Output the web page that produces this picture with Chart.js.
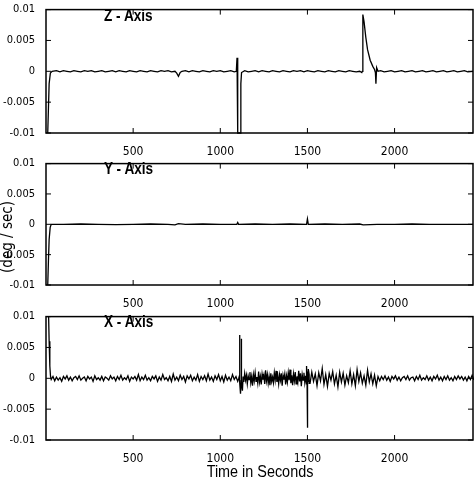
<!DOCTYPE html>
<html><head><meta charset="utf-8">
<script src="https://cdn.jsdelivr.net/npm/chart.js@4"></script>
<style>
body{margin:0;width:474px;height:480px;background:#fff;position:relative;overflow:hidden;font-family:"Liberation Sans Narrow","Liberation Sans",Arial,sans-serif}
.pc{position:absolute;left:0;width:474px}
.lbl{position:absolute;left:104px;font-weight:bold;font-size:16px;color:#000;transform:scaleX(0.85);transform-origin:left}
#xt{position:absolute;top:463px;left:0;width:520px;text-align:center;font-size:16px;transform:scaleX(0.9)}
#yt{position:absolute;z-index:5;color:#000;left:-43px;top:228px;width:100px;text-align:center;transform:rotate(-90deg);font-size:15px;font-family:"DejaVu Sans Condensed",sans-serif}
</style></head><body>
<div class="pc" style="top:0;height:158px"><canvas id="c1"></canvas></div>
<div class="pc" style="top:154px;height:156px"><canvas id="c2"></canvas></div>
<div class="pc" style="top:307px;height:158px"><canvas id="c3"></canvas></div>
<div class="lbl" style="top:7px">Z - Axis</div>
<div class="lbl" style="top:160px">Y - Axis</div>
<div class="lbl" style="top:313px">X - Axis</div>
<div id="xt">Time in Seconds</div>
<div id="yt">(deg / sec)</div>
<script>
// values in units of 1e-4 deg/sec: [time s, value]
const zAxis=[[10,-100],[14,-60],[18,-20],[25,-3],[35,0],[60,1],[80,-1],[100,1],[120,0],[140,-1],[160,1],[180,0],[200,-1],[220,1],[240,0],[260,1],[280,-1],[300,0],[320,1],[340,-1],[360,0],[380,1],[400,-1],[420,1],[440,0],[460,-1],[480,1],[500,0],[520,-1],[540,1],[560,0],[580,-1],[600,1],[620,0],[640,-1],[660,1],[680,0],[700,1],[720,-1],[740,0],[750,-3],[760,-8],[770,-2],[780,0],[800,1],[820,-1],[840,1],[860,0],[880,-1],[900,1],[920,0],[940,-1],[960,1],[980,0],[1000,1],[1020,-1],[1040,0],[1060,1],[1080,-1],[1092,0],[1096,22],[1100,-100],[1115,-100],[1118,-20],[1122,-2],[1140,1],[1160,-1],[1180,0],[1200,1],[1220,-1],[1240,1],[1260,0],[1280,-1],[1300,1],[1320,0],[1340,-1],[1360,1],[1380,0],[1400,-1],[1420,1],[1440,0],[1460,1],[1480,-1],[1500,1],[1520,0],[1540,-1],[1560,1],[1580,0],[1600,-1],[1620,1],[1640,0],[1660,-1],[1680,1],[1700,0],[1720,-1],[1740,1],[1760,0],[1780,-1],[1800,0],[1812,-2],[1815,0],[1818,92],[1825,80],[1835,55],[1845,35],[1860,18],[1875,8],[1885,3],[1890,-2],[1893,-20],[1897,6],[1905,0],[1920,1],[1940,-1],[1960,0],[1980,1],[2000,-1],[2020,0],[2040,1],[2060,-1],[2080,0],[2100,1],[2120,-1],[2140,0],[2160,1],[2180,-1],[2200,0],[2220,1],[2240,-1],[2260,0],[2280,1],[2300,-1],[2320,0],[2340,1],[2360,-1],[2380,0],[2400,1],[2420,-1],[2450,0]];
const yAxis=[[10,-100],[14,-60],[18,-25],[24,-5],[30,0],[100,0],[200,0.5],[300,0],[400,-0.5],[500,0],[600,0.5],[700,0],[740,-1],[760,1],[800,0],[900,0.5],[1000,0],[1095,0],[1100,3],[1105,0],[1200,0.5],[1300,0],[1400,0.5],[1495,0],[1500,9],[1505,0],[1600,0.5],[1700,0],[1800,0.5],[1820,-1],[1900,0],[2000,0],[2100,0.5],[2200,0],[2300,0],[2450,0]];
const xStart=[[15,100],[18,60],[22,20],[26,3]];
const xNoise=[-2,3,-4,2,-3,1,-5,3,-1,4,-3,2,-4,1,3,-2,4,-3,0,2,-4,3,-1,2,-5,4,-2,1,-3,3,-4,2,0,-3,4,-1,2,-4,3,-2,5,-3,1,-2,4,-5,2,-1,3,-3,6,-4,2,-2,5,-3,1,-4,3,-1,4,-5,2,-3,6,-2,1,-4,3,-5,7,-3,2,-4,5,-2,3,-6,4,-1,5,-4,2,-3,6,-5,3,-2,4,-4,7,-3,2,-5,4,-2,6,-4,3,-6,5,-3,2,-4,6,-2,3,-5,4,-3];
const xSpikes=[[1106,0],[1110,70],[1113,-8],[1116,-25],[1120,64],[1123,-6],[1127,-20],[1131,3]];
const xNoise2=[-6,8,-3,5,-9,4,-2,10,-7,3,-12,6,-4,9,-5,2,-8,11,-6,3,-10,7,-2,5,-9,13,-4,6,-8,3,-11,8,-5,2,-7,9,-3,12,-6,4,-9,6,-3,8,-12,5,-2,7,-10,4,-6,9,-3,14,-8,5,-11,7,-4,10,-9,3,-6,12,-5,8,-13,6,-3,9,-7,4,-10,11,-5,6];
const xSpikes2=[[1490,3],[1495,20],[1498,-10],[1500,-80],[1502,-5],[1505,15],[1510,-8]];
const xNoise3=[-8,10,-5,7,-12,9,-4,16,-10,6,-13,8,-3,11,-9,5,-14,10,-6,8,-11,4,-7,12,-9,6,-12,14,-5,9,-8,4,-11,13,-6,7,-9,5,-12,3,-4,3,-2,4,-3,2,-5,3,-1,4,-3,2,-4,1,3,-2,4,-3,1,2,-4,3,-2,5,-3,1,-2,4,-3,2,-4,3,-1,5,-3,2,-4,3,-2,4,-3,1,-4,3,-2,4,-1,3,-3,2,-4,3,-2,5,-3,1,-2,4,-3,2];
const xTicks=[500,1000,1500,2000];
const xTickLabels=["500","1000","1500","2000"];
const yTicks=[-0.01,-0.005,0,0.005,0.01];
const yTickLabels=["-0.01","-0.005","0","0.005","0.01"];

function buildX(){
  const pts=xStart.slice();
  xNoise.forEach((v,i)=>pts.push([30+i*10,v]));
  xSpikes.forEach(p=>pts.push(p));
  xNoise2.forEach((v,i)=>pts.push([1135+i*5,v]));
  xSpikes2.forEach(p=>pts.push(p));
  xNoise3.forEach((v,i)=>pts.push([1515+i*10,v]));
  pts.sort((a,b)=>a[0]-b[0]);
  return pts.filter(p=>!(p[0]>=1490&&p[0]<=1510&&!xSpikes2.some(s=>s[0]===p[0])));
}
const toXY=a=>a.map(p=>({x:p[0],y:p[1]*1e-4}));
const font={family:'"DejaVu Sans Condensed","Liberation Sans",Arial,sans-serif',size:11};
const frame={id:'frame',afterDraw(c){const a=c.chartArea,g=c.ctx;g.save();g.strokeStyle='#000';g.lineWidth=1.5;g.strokeRect(a.left,a.top,a.right-a.left,a.bottom-a.top);g.lineWidth=1;
  xTicks.forEach(t=>{const x=c.scales.x.getPixelForValue(t);g.beginPath();g.moveTo(x,a.bottom);g.lineTo(x,a.bottom-5);g.moveTo(x,a.top);g.lineTo(x,a.top+5);g.stroke();});
  yTicks.forEach(t=>{const y=c.scales.y.getPixelForValue(t);g.beginPath();g.moveTo(a.left,y);g.lineTo(a.left+5,y);g.moveTo(a.right,y);g.lineTo(a.right-5,y);g.stroke();});
  g.restore();}};
function make(id,data){
  new Chart(document.getElementById(id),{type:'line',data:{datasets:[{data:toXY(data),borderColor:'#000',borderWidth:1.3,pointRadius:0,tension:0,clip:false}]},
  options:{responsive:true,maintainAspectRatio:false,animation:false,layout:{padding:{top:6,right:1,left:0,bottom:0}},
   plugins:{legend:{display:false},tooltip:{enabled:false}},
   scales:{x:{type:'linear',min:0,max:2450,afterBuildTicks:s=>{s.ticks=xTicks.map(v=>({value:v}))},grid:{display:false},border:{display:false},ticks:{color:'#000',font:{...font,size:12},maxRotation:0,padding:4,callback:v=>xTickLabels[xTicks.indexOf(v)]},afterFit:s=>{s.height=25}},
    y:{min:-0.01,max:0.01,afterBuildTicks:s=>{s.ticks=yTicks.map(v=>({value:v}))},grid:{display:false},border:{display:false},ticks:{color:'#000',font,padding:3,callback:(v)=>yTickLabels[yTicks.indexOf(v)]},afterFit:s=>{s.width=46}}}},
  plugins:[frame]});
}
make('c1',zAxis);make('c2',yAxis);make('c3',buildX());
</script></body></html>
